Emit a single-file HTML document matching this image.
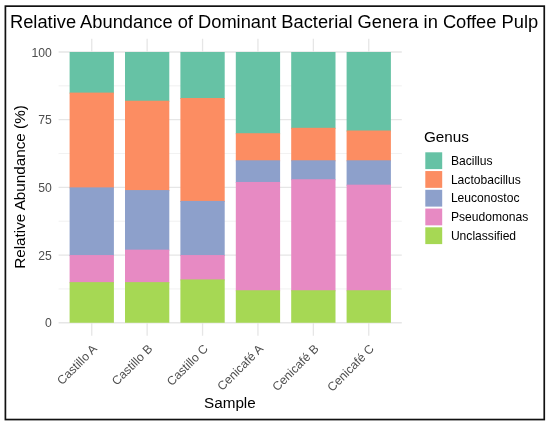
<!DOCTYPE html>
<html lang="en"><head><meta charset="utf-8"><title>Relative Abundance of Dominant Bacterial Genera in Coffee Pulp</title>
<style>
html,body{margin:0;padding:0;background:#fff;}
body{width:550px;height:426px;overflow:hidden;}
svg{display:block;font-family:"Liberation Sans",Arial,Helvetica,sans-serif;}
.g line{stroke:#E6E6E6;}
.tick{fill:#4D4D4D;}
</style></head><body>
<svg width="550" height="426" viewBox="0 0 550 426">
<rect x="0" y="0" width="550" height="426" fill="#fff"/>
<rect x="5.4" y="6.15" width="538.85" height="413.4" fill="#fff" stroke="#111" stroke-width="1.7"/>

<g class="g">
<line x1="58.6" x2="401.8" y1="288.91" y2="288.91" stroke-width="0.55"/>
<line x1="58.6" x2="401.8" y1="221.22" y2="221.22" stroke-width="0.55"/>
<line x1="58.6" x2="401.8" y1="153.53" y2="153.53" stroke-width="0.55"/>
<line x1="58.6" x2="401.8" y1="85.84" y2="85.84" stroke-width="0.55"/>
<line x1="58.6" x2="401.8" y1="322.75" y2="322.75" stroke-width="1.3"/>
<line x1="58.6" x2="401.8" y1="255.06" y2="255.06" stroke-width="1.3"/>
<line x1="58.6" x2="401.8" y1="187.38" y2="187.38" stroke-width="1.3"/>
<line x1="58.6" x2="401.8" y1="119.69" y2="119.69" stroke-width="1.3"/>
<line x1="58.6" x2="401.8" y1="52.00" y2="52.00" stroke-width="1.3"/>
<line x1="91.75" x2="91.75" y1="38.7" y2="335.8" stroke-width="1.3"/>
<line x1="147.15" x2="147.15" y1="38.7" y2="335.8" stroke-width="1.3"/>
<line x1="202.55" x2="202.55" y1="38.7" y2="335.8" stroke-width="1.3"/>
<line x1="257.95" x2="257.95" y1="38.7" y2="335.8" stroke-width="1.3"/>
<line x1="313.35" x2="313.35" y1="38.7" y2="335.8" stroke-width="1.3"/>
<line x1="368.75" x2="368.75" y1="38.7" y2="335.8" stroke-width="1.3"/>
</g>
<g shape-rendering="auto">
<rect x="69.60" y="52.00" width="44.3" height="41.61" fill="#66C2A5"/>
<rect x="69.60" y="92.61" width="44.3" height="95.76" fill="#FC8D62"/>
<rect x="69.60" y="187.38" width="44.3" height="68.69" fill="#8DA0CB"/>
<rect x="69.60" y="255.06" width="44.3" height="28.07" fill="#E78AC3"/>
<rect x="69.60" y="282.14" width="44.3" height="40.61" fill="#A6D854"/>
<rect x="125.00" y="52.00" width="44.3" height="49.74" fill="#66C2A5"/>
<rect x="125.00" y="100.74" width="44.3" height="90.35" fill="#FC8D62"/>
<rect x="125.00" y="190.08" width="44.3" height="60.56" fill="#8DA0CB"/>
<rect x="125.00" y="249.65" width="44.3" height="33.49" fill="#E78AC3"/>
<rect x="125.00" y="282.14" width="44.3" height="40.61" fill="#A6D854"/>
<rect x="180.40" y="52.00" width="44.3" height="47.03" fill="#66C2A5"/>
<rect x="180.40" y="98.03" width="44.3" height="103.88" fill="#FC8D62"/>
<rect x="180.40" y="200.91" width="44.3" height="55.15" fill="#8DA0CB"/>
<rect x="180.40" y="255.06" width="44.3" height="25.37" fill="#E78AC3"/>
<rect x="180.40" y="279.43" width="44.3" height="43.32" fill="#A6D854"/>
<rect x="235.80" y="52.00" width="44.3" height="82.22" fill="#66C2A5"/>
<rect x="235.80" y="133.22" width="44.3" height="28.08" fill="#FC8D62"/>
<rect x="235.80" y="160.30" width="44.3" height="22.66" fill="#8DA0CB"/>
<rect x="235.80" y="181.96" width="44.3" height="109.30" fill="#E78AC3"/>
<rect x="235.80" y="290.26" width="44.3" height="32.49" fill="#A6D854"/>
<rect x="291.20" y="52.00" width="44.3" height="76.81" fill="#66C2A5"/>
<rect x="291.20" y="127.81" width="44.3" height="33.49" fill="#FC8D62"/>
<rect x="291.20" y="160.30" width="44.3" height="19.95" fill="#8DA0CB"/>
<rect x="291.20" y="179.25" width="44.3" height="112.01" fill="#E78AC3"/>
<rect x="291.20" y="290.26" width="44.3" height="32.49" fill="#A6D854"/>
<rect x="346.60" y="52.00" width="44.3" height="79.52" fill="#66C2A5"/>
<rect x="346.60" y="130.52" width="44.3" height="30.78" fill="#FC8D62"/>
<rect x="346.60" y="160.30" width="44.3" height="25.37" fill="#8DA0CB"/>
<rect x="346.60" y="184.67" width="44.3" height="106.59" fill="#E78AC3"/>
<rect x="346.60" y="290.26" width="44.3" height="32.49" fill="#A6D854"/>
</g>
<text id="title" x="10.0" y="27.95" font-size="18.3" fill="#000">Relative Abundance of Dominant Bacterial Genera in Coffee Pulp</text>
<g class="tick" font-size="12.2" text-anchor="end">
<text id="yl0" x="51.8" y="327.30">0</text>
<text id="yl25" x="51.8" y="259.61">25</text>
<text id="yl50" x="51.8" y="191.93">50</text>
<text id="yl75" x="51.8" y="124.24">75</text>
<text id="yl100" x="51.8" y="56.55">100</text>
</g>
<text id="ytitle" transform="translate(24.9,187.0) rotate(-90)" text-anchor="middle" font-size="15.25" fill="#000">Relative Abundance (%)</text>
<g class="tick" font-size="12.2" text-anchor="end">
<text id="xl0" transform="translate(97.85,349.6) rotate(-45)">Castillo A</text>
<text id="xl1" transform="translate(153.25,349.6) rotate(-45)">Castillo B</text>
<text id="xl2" transform="translate(208.65,349.6) rotate(-45)">Castillo C</text>
<text id="xl3" transform="translate(264.05,349.6) rotate(-45)">Cenicafé A</text>
<text id="xl4" transform="translate(319.45,349.6) rotate(-45)">Cenicafé B</text>
<text id="xl5" transform="translate(374.85,349.6) rotate(-45)">Cenicafé C</text>
</g>
<text id="xtitle" x="229.9" y="407.9" text-anchor="middle" font-size="15.25" fill="#000">Sample</text>
<text id="ltitle" x="424.0" y="142.1" font-size="15.25" fill="#000">Genus</text>
<rect x="425.3" y="152.30" width="16.9" height="16.8" fill="#66C2A5"/>
<text id="ll0" x="450.9" y="164.80" font-size="12.1" fill="#000">Bacillus</text>
<rect x="425.3" y="171.05" width="16.9" height="16.8" fill="#FC8D62"/>
<text id="ll1" x="450.9" y="183.55" font-size="12.1" fill="#000">Lactobacillus</text>
<rect x="425.3" y="189.80" width="16.9" height="16.8" fill="#8DA0CB"/>
<text id="ll2" x="450.9" y="202.30" font-size="12.1" fill="#000">Leuconostoc</text>
<rect x="425.3" y="208.55" width="16.9" height="16.8" fill="#E78AC3"/>
<text id="ll3" x="450.9" y="221.05" font-size="12.1" fill="#000">Pseudomonas</text>
<rect x="425.3" y="227.30" width="16.9" height="16.8" fill="#A6D854"/>
<text id="ll4" x="450.9" y="239.80" font-size="12.1" fill="#000">Unclassified</text>
</svg></body></html>
